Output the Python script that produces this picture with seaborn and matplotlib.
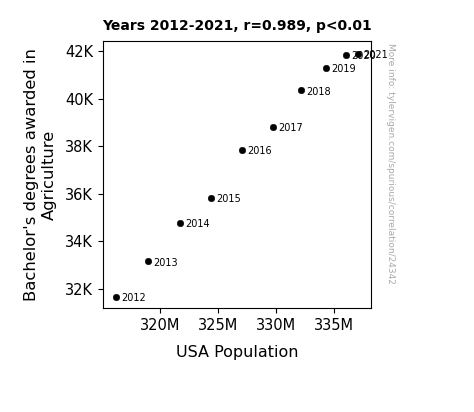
import matplotlib
matplotlib.use('Agg')
import matplotlib.pyplot as plt
import matplotlib.ticker as mticker
import seaborn as sns
import pandas as pd

years = [2012, 2013, 2014, 2015, 2016, 2017, 2018, 2019, 2020, 2021]
population = [316.2e6, 318.97e6, 321.7e6, 324.4e6, 327.07e6, 329.74e6,
              332.16e6, 334.3e6, 336.03e6, 337.07e6]
degrees = [31660, 33160, 34780, 35830, 37830, 38800, 40340, 41300, 41830, 41870]

df = pd.DataFrame({'year': years, 'pop': population, 'deg': degrees})

sns.set_style('ticks')
plt.rcParams['font.family'] = ['DejaVu Sans']
plt.rcParams['text.color'] = 'black'
plt.rcParams['axes.labelcolor'] = 'black'
plt.rcParams['xtick.color'] = 'black'
plt.rcParams['ytick.color'] = 'black'
plt.rcParams['axes.edgecolor'] = 'black'

fig = plt.figure(figsize=(4.74, 4.12), dpi=100)
ax = fig.add_axes([103 / 474, 1 - 308 / 412, 268 / 474, 267 / 412])

sns.scatterplot(data=df, x='pop', y='deg', color='black', s=22, edgecolor='black', ax=ax)
for _, r in df.iterrows():
    ax.annotate(str(int(r['year'])), (r['pop'], r['deg']), xytext=(4, -3),
                textcoords='offset points', fontsize=7)

ax.set_xlim(315.1e6, 338.2e6)
ax.set_ylim(31200, 42420)
ax.xaxis.set_major_locator(mticker.MultipleLocator(5e6))
ax.yaxis.set_major_locator(mticker.MultipleLocator(2000))
ax.xaxis.set_major_formatter(mticker.FuncFormatter(lambda v, p: '%dM' % round(v / 1e6)))
ax.yaxis.set_major_formatter(mticker.FuncFormatter(lambda v, p: '%dK' % round(v / 1e3)))
ax.tick_params(labelsize=10.5)

ax.set_xlabel('USA Population', fontsize=11.5, labelpad=9)
ax.set_ylabel("Bachelor's degrees awarded in\nAgriculture", fontsize=11.8, labelpad=6)
ax.set_title('Years 2012-2021, r=0.989, p<0.01', fontsize=10, fontweight='bold', pad=8)

fig.text(386 / 474, 1 - 163 / 412, 'More info: tylervigen.com/spurious/correlation/24342',
         rotation=270, fontsize=6.5, color='#aaaaaa', ha='left', va='center')

fig.savefig('out.png', dpi=100)
